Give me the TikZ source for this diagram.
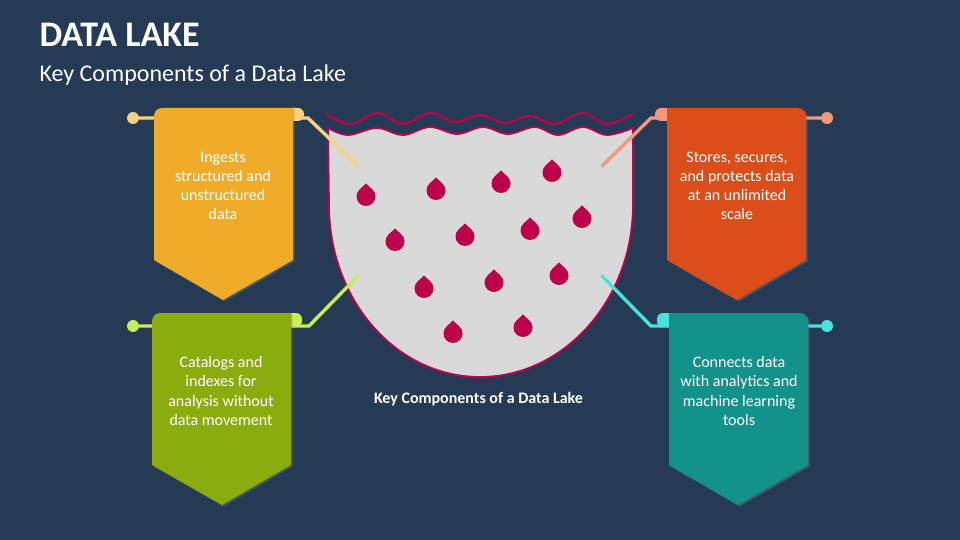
\documentclass[tikz,border=0pt]{standalone}
\usepackage{fontspec}
\setmainfont{Carlito}
\usetikzlibrary{shadows}
\definecolor{slate}{HTML}{243A55}
\definecolor{crimson}{HTML}{BD0049}
\definecolor{amber}{HTML}{F0AC28}
\definecolor{amberlight}{HTML}{FAD27F}
\definecolor{rust}{HTML}{DC4E19}
\definecolor{rustlight}{HTML}{F4987A}
\definecolor{olive}{HTML}{8AAC0E}
\definecolor{olivelight}{HTML}{C9EE55}
\definecolor{teal2}{HTML}{12928A}
\definecolor{teallight}{HTML}{46E4DC}
\begin{document}
\begin{tikzpicture}[x=1pt,y=-1pt,
	banner/.style={drop shadow={shadow xshift=1.5pt,shadow yshift=-1.5pt,opacity=.4}},
	pin/.style={circle,inner sep=0pt,minimum size=12pt},
	link/.style={line width=3.4pt,line join=miter},
	knob/.style={rounded corners=6pt},
	label/.style={text=white,align=center,font=\fontsize{16}{19.2}\selectfont},
	droplet/.pic={\fill[crimson] (0,-12.5) -- (6.5,-6.4) .. controls (8.4,-4.6) and (9.5,-2.1) .. (9.5,.5)
		.. controls (9.5,5.7) and (5.2,10) .. (0,10) .. controls (-5.2,10) and (-9.5,5.7) .. (-9.5,.5)
		.. controls (-9.5,-2.1) and (-8.4,-4.6) .. (-6.5,-6.4) -- cycle;}]

	\useasboundingbox (0,0) rectangle (960,540);
	\fill[slate] (0,0) rectangle (960,540);

	\node[anchor=west,text=white,font=\fontsize{36}{40}\selectfont\bfseries] (title) at (36,35) {DATA LAKE};
	\node[anchor=west,text=white,font=\fontsize{24}{28}\selectfont] (subtitle) at (36,75.5) {Key Components of a Data Lake};

	% lake
	\draw[crimson,line width=1.8pt,fill=gray!30!white] plot[smooth,tension=.6] coordinates {(328,128) (348,135) (377,128) (403,135) (430,127) (457,134) (483,127) (508,134) (535,127) (558,135) (583,127) (607,135) (633,128)}
		-- (633,205) .. controls (633,300) and (564,377) .. (480,377) .. controls (396,377) and (329,300) .. (329,205) -- cycle;
	\draw[crimson,line width=2.2pt] plot[smooth,tension=.6] coordinates {(326,114) (350,124) (378,113) (403,124) (430,113) (455,122) (480,115) (505,123) (530,116) (555,124) (582,113) (607,124) (633,114)};

	\foreach \x/\y in {366/196,436/190,501/183,552/172,395/241,465/236,530/230,582/218,424/288,494/282,559/275,453/333,523/327}
		\pic at (\x,\y) {droplet};

	\node[text=white,font=\fontsize{16}{19}\selectfont\bfseries] (caption) at (478.5,399.5) {Key Components of a Data Lake};

	% pins and links
	\node[pin,fill=amberlight] (pinA) at (133,118) {};
	\coordinate (elbowA) at (308,118);
	\coordinate (endA) at (358,166);
	\draw[link,amberlight,line cap=round] (pinA) -- (elbowA) -- (endA);
	\fill[amberlight,knob] (286,121) -- (286,108) -- (304,108) -- (304,121) -- cycle;

	\node[pin,fill=rustlight] (pinB) at (827,118) {};
	\coordinate (elbowB) at (651,118);
	\coordinate (endB) at (602,166);
	\draw[link,rustlight,line cap=round] (pinB) -- (elbowB) -- (endB);
	\fill[rustlight,knob] (655,121) -- (655,108) -- (673,108) -- (673,121) -- cycle;

	\node[pin,fill=olivelight] (pinC) at (133,326) {};
	\coordinate (elbowC) at (309,326);
	\coordinate (endC) at (358,276);
	\draw[link,olivelight,line cap=round] (pinC) -- (elbowC) -- (endC);
	\fill[olivelight,knob] (284,327) -- (284,313) -- (302,313) -- (302,327) -- cycle;

	\node[pin,fill=teallight] (pinD) at (827,326) {};
	\coordinate (elbowD) at (651,326);
	\coordinate (endD) at (602,276);
	\draw[link,teallight,line cap=round] (pinD) -- (elbowD) -- (endD);
	\fill[teallight,knob] (657,327) -- (657,313) -- (675,313) -- (675,327) -- cycle;

	% banners
	\fill[amber,banner] (154,260) [rounded corners=8pt] -- (154,108) [sharp corners] -- (293,108) -- (293,260) -- (223,300) -- cycle;
	\fill[rust,banner] (667,260) -- (667,108) [rounded corners=8pt] -- (806,108) [sharp corners] -- (806,260) -- (737,300) -- cycle;
	\fill[olive,banner] (152,465) [rounded corners=8pt] -- (152,313) [sharp corners] -- (291,313) -- (291,465) -- (222,505) -- cycle;
	\fill[teal2,banner] (669,465) -- (669,313) [rounded corners=8pt] -- (808,313) [sharp corners] -- (808,465) -- (738,505) -- cycle;

	\node[label] (ingest) at (223,186) {Ingests\\structured and\\unstructured\\data};
	\node[label] (store) at (737,186) {Stores, secures,\\and protects data\\at an unlimited\\scale};
	\node[label] (catalog) at (221,391) {Catalogs and\\indexes for\\analysis without\\data movement};
	\node[label] (connect) at (739,391) {Connects data\\with analytics and\\machine learning\\tools};
\end{tikzpicture}
\end{document}
